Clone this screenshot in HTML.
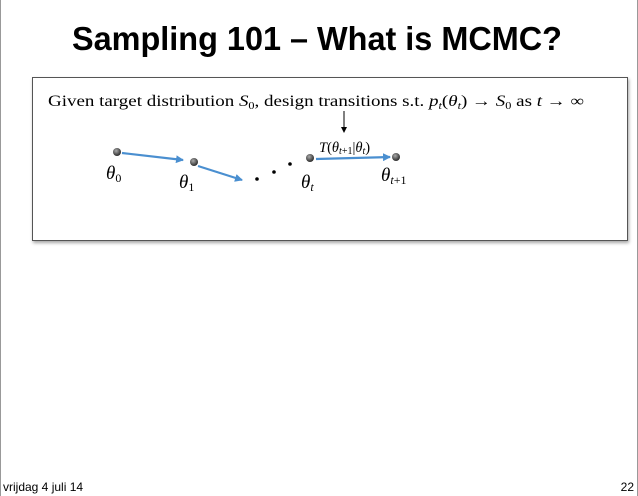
<!DOCTYPE html>
<html><head><meta charset="utf-8"><style>
html,body{margin:0;padding:0;background:#fff;}
svg{display:block;}
.serif{font-family:"Liberation Serif","DejaVu Serif",serif;}
</style></head><body>
<svg width="638" height="496" viewBox="0 0 638 496">
<defs>
<marker id="ab" markerWidth="8" markerHeight="8" refX="7" refY="4" orient="auto" markerUnits="userSpaceOnUse"><path d="M0,0 L8,4 L0,8 z" fill="#4a8fd0"/></marker>
<marker id="ak" markerWidth="6" markerHeight="6" refX="5" refY="3" orient="auto" markerUnits="userSpaceOnUse"><path d="M0,0 L6,3 L0,6 z" fill="#000"/></marker>
<radialGradient id="ng" cx="40%" cy="35%" r="60%"><stop offset="0" stop-color="#aaa"/><stop offset="1" stop-color="#333"/></radialGradient>
<filter id="sh" x="-5%" y="-5%" width="110%" height="115%"><feDropShadow dx="1" dy="2" stdDeviation="1.5" flood-color="#000" flood-opacity="0.35"/></filter>
</defs>
<line x1="0.5" y1="0" x2="0.5" y2="496" stroke="#999"/>
<line x1="637.5" y1="0" x2="637.5" y2="496" stroke="#999"/>
<text x="317" y="50" text-anchor="middle" font-family="Liberation Sans, sans-serif" font-weight="bold" font-size="33" textLength="490" lengthAdjust="spacingAndGlyphs">Sampling 101 – What is MCMC?</text>
<rect x="32.5" y="77.5" width="595" height="163" fill="#fff" stroke="#555" stroke-width="1" filter="url(#sh)"/>
<text class="serif" x="48" y="106" font-size="15.5" textLength="536" lengthAdjust="spacingAndGlyphs">Given target distribution <tspan font-style="italic">S</tspan><tspan font-size="10" dy="3">0</tspan><tspan dy="-3">, design transitions s.t. </tspan><tspan font-style="italic">p</tspan><tspan font-size="10" font-style="italic" dy="3">t</tspan><tspan dy="-3">(</tspan><tspan font-style="italic">θ</tspan><tspan font-size="10" font-style="italic" dy="3">t</tspan><tspan dy="-3">) → </tspan><tspan font-style="italic">S</tspan><tspan font-size="10" dy="3">0</tspan><tspan dy="-3"> as </tspan><tspan font-style="italic">t</tspan> → ∞</text>
<line x1="344" y1="111" x2="344" y2="132" stroke="#000" stroke-width="1" marker-end="url(#ak)"/>
<g>
<line x1="122" y1="153" x2="183" y2="160" stroke="#4a8fd0" stroke-width="2.2" marker-end="url(#ab)"/>
<line x1="198" y1="166" x2="242" y2="180" stroke="#4a8fd0" stroke-width="2.2" marker-end="url(#ab)"/>
<line x1="316" y1="159" x2="390" y2="157" stroke="#4a8fd0" stroke-width="2.2" marker-end="url(#ab)"/>
</g>
<g>
<circle cx="117" cy="152" r="4" fill="url(#ng)"/>
<circle cx="194" cy="162" r="4" fill="url(#ng)"/>
<circle cx="310" cy="158" r="4" fill="url(#ng)"/>
<circle cx="396" cy="157" r="4" fill="url(#ng)"/>
<circle cx="257" cy="179" r="1.8" fill="#000"/>
<circle cx="274" cy="172" r="1.8" fill="#000"/>
<circle cx="290" cy="164" r="1.8" fill="#000"/>
</g>
<g class="serif" font-style="italic" font-size="19">
<text x="106" y="179">θ<tspan font-size="12" font-style="normal" dy="3">0</tspan></text>
<text x="179" y="188">θ<tspan font-size="12" font-style="normal" dy="3">1</tspan></text>
<text x="301" y="188">θ<tspan font-size="12" dy="3">t</tspan></text>
<text x="381" y="181">θ<tspan font-size="12" dy="3">t</tspan><tspan font-size="12" font-style="normal">+1</tspan></text>
</g>
<text class="serif" x="319" y="152" font-size="14.5" font-style="italic">T<tspan font-style="normal">(</tspan>θ<tspan font-size="10" dy="2">t</tspan><tspan font-size="10" font-style="normal">+1</tspan><tspan dy="-2" font-style="normal">|</tspan>θ<tspan font-size="10" dy="2">t</tspan><tspan dy="-2" font-style="normal">)</tspan></text>
<text x="3" y="491" font-family="Liberation Sans, sans-serif" font-size="12">vrijdag 4 juli 14</text>
<text x="634" y="491" text-anchor="end" font-family="Liberation Sans, sans-serif" font-size="12">22</text>
</svg>
</body></html>
